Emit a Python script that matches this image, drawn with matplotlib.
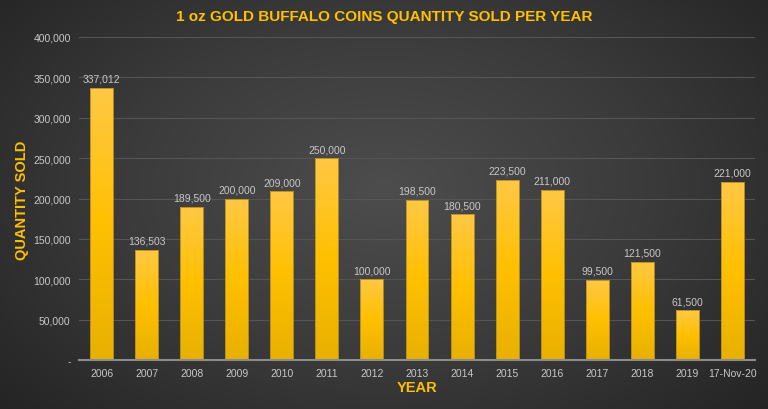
import matplotlib.pyplot as plt
import numpy as np
from matplotlib.colors import LinearSegmentedColormap

years = ["2006", "2007", "2008", "2009", "2010", "2011", "2012", "2013",
         "2014", "2015", "2016", "2017", "2018", "2019", "17-Nov-20"]
sold = [337012, 136503, 189500, 200000, 209000, 250000, 100000, 198500,
        180500, 223500, 211000, 99500, 121500, 61500, 221000]
yticks = [0, 50000, 100000, 150000, 200000, 250000, 300000, 350000, 400000]
ytick_labels = ["-"] + ["{:,}".format(v) for v in yticks[1:]]

gold = "#ffc000"
txt = "#c8c8c8"

fig = plt.figure(figsize=(7.68, 4.10), dpi=100)

# radial background
bg = fig.add_axes([0, 0, 1, 1], zorder=-10)
yy, xx = np.mgrid[0:410, 0:768]
r = np.sqrt(((xx - 384) / 520.0) ** 2 + ((yy - 190) / 330.0) ** 2)
bg_cmap = LinearSegmentedColormap.from_list("bg", ["#4d4d4d", "#3b3b3b", "#242424"])
bg.imshow(r, cmap=bg_cmap, vmin=0, vmax=1.0, aspect="auto")
bg.set_axis_off()

ax = fig.add_axes([79 / 768, 1 - 361 / 410, 676 / 768, (361 - 38) / 410])
ax.patch.set_alpha(0)

x = np.arange(len(years))
bars = ax.bar(x, sold, width=0.51, color=gold, edgecolor="#b08a20", linewidth=0.6, zorder=3)

bar_cmap = LinearSegmentedColormap.from_list("bar", ["#ffc845", "#ffc000", "#e8b000"])
grad = np.linspace(0, 1, 256).reshape(-1, 1)
for b in bars:
    x0, w, h = b.get_x(), b.get_width(), b.get_height()
    im = ax.imshow(grad, cmap=bar_cmap, aspect="auto", extent=[x0, x0 + w, 0, h],
                   origin="upper", zorder=3.5)
    im.set_clip_path(b)
    ax.bar(x0 + w / 2, h, width=w, fill=False, edgecolor="#b08a20", linewidth=0.6, zorder=4)
    ax.text(x0 + w / 2, h + 5000, "{:,}".format(h), ha="center", va="bottom",
            color=txt, fontsize=7.5, family="Liberation Sans")

ax.set_xlim(-0.5, len(years) - 0.5)
ax.set_ylim(0, 400000)
ax.set_yticks(yticks)
ax.set_yticklabels(ytick_labels)
ax.set_xticks(x)
ax.set_xticklabels(years)
ax.tick_params(axis="both", length=0, colors=txt, labelsize=7.5, pad=6)
for lab in ax.get_xticklabels() + ax.get_yticklabels():
    lab.set_family("Liberation Sans")
ax.grid(axis="y", color="#555555", linewidth=0.8, zorder=0)
for s in ["top", "right", "left"]:
    ax.spines[s].set_visible(False)
ax.spines["bottom"].set_color("#8c8c8c")
ax.spines["bottom"].set_linewidth(1.5)
ax.spines["bottom"].set_zorder(5)

fig.text(0.5, 1 - 17 / 410, "1 oz GOLD BUFFALO COINS QUANTITY SOLD PER YEAR", ha="center",
         va="center", color=gold, fontsize=11, fontweight="bold", family="Liberation Sans")
fig.text(22 / 768, 1 - 200 / 410, "QUANTITY SOLD", rotation=90, ha="center", va="center",
         color=gold, fontsize=10.5, fontweight="bold", family="Liberation Sans")
fig.text(417 / 768, 1 - 388 / 410, "YEAR", ha="center", va="center",
         color=gold, fontsize=10.5, fontweight="bold", family="Liberation Sans")

fig.savefig("out.png", dpi=100)
